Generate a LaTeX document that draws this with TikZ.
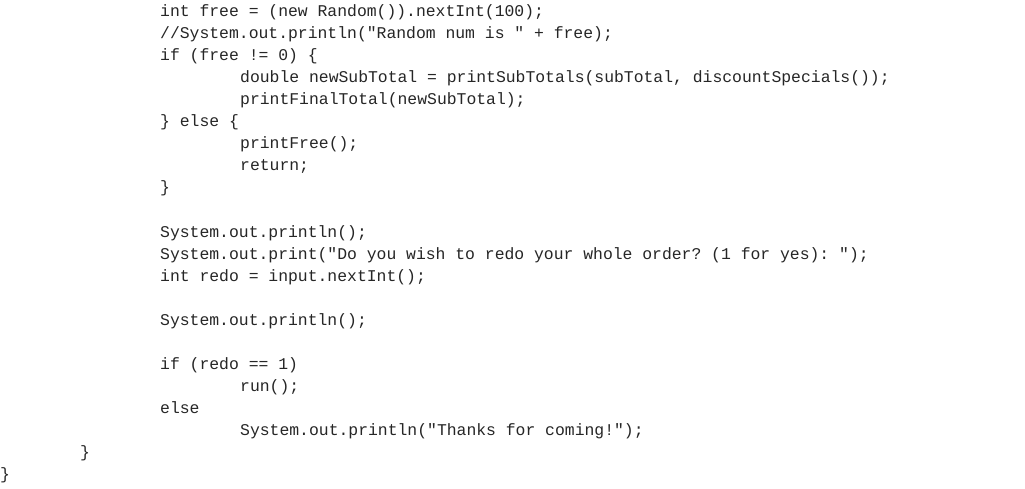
\documentclass[tikz,border=0pt]{standalone}
\usepackage{fontspec}
\setmonofont{Liberation Mono}
\begin{document}
\begin{tikzpicture}[x=1pt,y=1pt,
  code/.style={anchor=base west,inner sep=0pt,font=\fontsize{16.4}{18}\ttfamily,text=black!85}]
\useasboundingbox[fill=white] (0,0) rectangle (1025,-489);
\node[code] (l1) at (160,-17) {int free = (new Random()).nextInt(100);};
\node[code] (l2) at (160,-39) {//System.out.println("Random num is " + free);};
\node[code] (l3) at (160,-61) {if (free != 0) \{};
\node[code] (l4) at (240,-83) {double newSubTotal = printSubTotals(subTotal, discountSpecials());};
\node[code] (l5) at (240,-105) {printFinalTotal(newSubTotal);};
\node[code] (l6) at (160,-127) {\} else \{};
\node[code] (l7) at (240,-149) {printFree();};
\node[code] (l8) at (240,-171) {return;};
\node[code] (l9) at (160,-193) {\}};
\node[code] (l10) at (160,-237) {System.out.println();};
\node[code] (l11) at (160,-259) {System.out.print("Do you wish to redo your whole order? (1 for yes): ");};
\node[code] (l12) at (160,-281) {int redo = input.nextInt();};
\node[code] (l13) at (160,-325) {System.out.println();};
\node[code] (l14) at (160,-369) {if (redo == 1)};
\node[code] (l15) at (240,-391) {run();};
\node[code] (l16) at (160,-413) {else};
\node[code] (l17) at (240,-435) {System.out.println("Thanks for coming!");};
\node[code] (l18) at (80,-457) {\}};
\node[code] (l19) at (0,-479) {\}};
\end{tikzpicture}
\end{document}
